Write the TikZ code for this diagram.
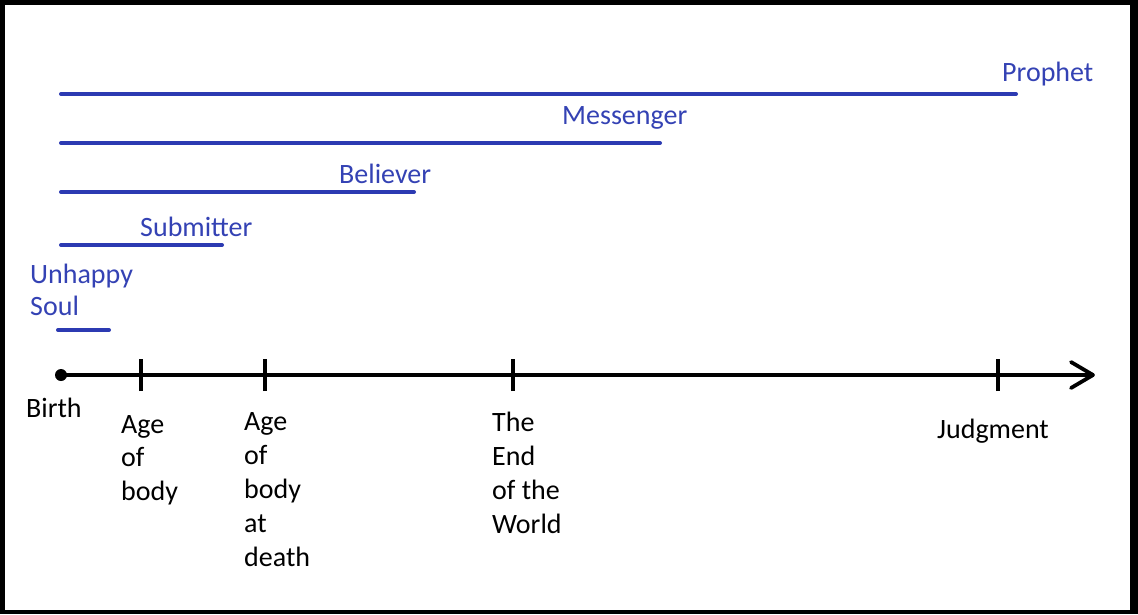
\documentclass[tikz,border=0pt]{standalone}
\usepackage{fontspec}
\setmainfont{Carlito}
\definecolor{lineblue}{RGB}{44,58,178}
\definecolor{textblue}{RGB}{52,66,180}
\begin{document}
\begin{tikzpicture}[x=1pt,y=-1pt,
  lbl/.style={inner sep=0pt, anchor=base west, align=left, font=\fontsize{28}{34}\selectfont},
  bluelbl/.style={lbl, text=textblue},
  blackline/.style={line width=3.8pt, black},
  blueline/.style={line width=4pt, lineblue, line cap=round},
  tick/.style={line width=3.5pt, black}]
\useasboundingbox (0,0) rectangle (1138,614);
\fill[black] (0,0) rectangle (1138,614);
\fill[white] (5,5) rectangle (1130,610);
% axis
\node[circle, fill=black, inner sep=0pt, minimum size=12pt] (birthdot) at (61,375) {};
\coordinate (tip) at (1093,375);
\draw[blackline] (birthdot.center) -- (tip);
\draw[blackline, line join=round, line cap=round] (1071,362) -- (tip) -- (1071,388);
\coordinate (t1) at (141,375);
\coordinate (t2) at (265,375);
\coordinate (t3) at (513,375);
\coordinate (t4) at (998,375);
\foreach \t in {t1,t2,t3,t4} \draw[tick] ([yshift=-16pt]\t) -- ([yshift=16pt]\t);
% blue bars
\draw[blueline] (61,94) -- (1016,94);
\draw[blueline] (61,143) -- (660,143);
\draw[blueline] (61,192) -- (414,192);
\draw[blueline] (61,245) -- (222,245);
\draw[blueline] (58,330) -- (109,330);
% blue labels
\node[bluelbl] (prophet) at (1002,81) {Prophet};
\node[bluelbl] (messenger) at (562,124) {Messenger};
\node[bluelbl] (believer) at (339,183) {Believer};
\node[bluelbl] (submitter) at (140,236) {Submitter};
\node[bluelbl, font=\fontsize{28}{32}\selectfont] (unhappy) at (30,315) {Unhappy\\Soul};
% black labels
\node[lbl] (birth) at (26,417) {Birth};
\node[lbl, font=\fontsize{28}{33.5}\selectfont] (ageofbody) at (121,500) {Age\\of\\body};
\node[lbl] (agedeath) at (244,566) {Age\\of\\body\\at\\death};
\node[lbl] (endworld) at (492,533) {The\\End\\of the\\World};
\node[lbl] (judgment) at (937,438) {Judgment};
\end{tikzpicture}
\end{document}
